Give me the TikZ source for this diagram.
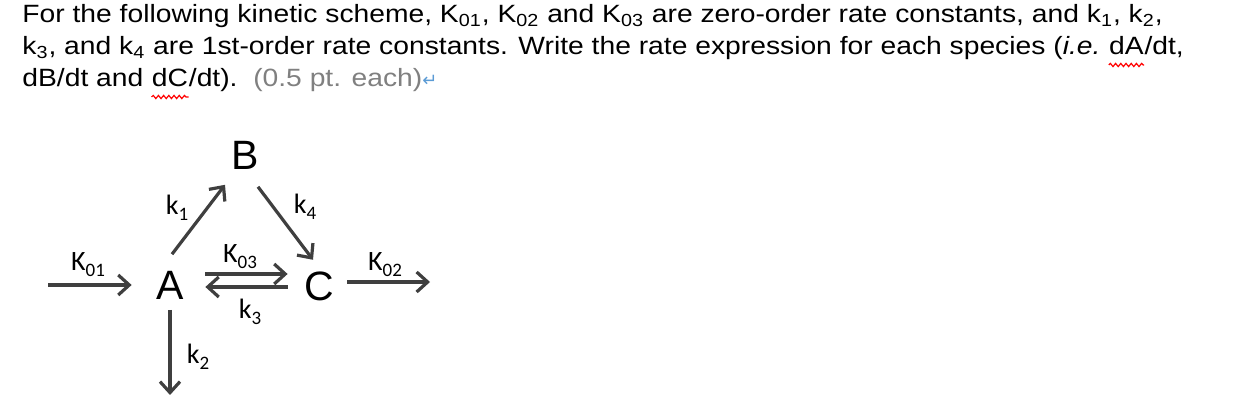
\documentclass[tikz,border=0pt]{standalone}
\usepackage{fontspec}
\setmainfont{Liberation Sans}[FakeStretch=1.13]
\newfontfamily\labelfont{Carlito}
\newfontfamily\speciesfont{Liberation Sans}
\newfontfamily\symfont{DejaVu Sans}
\usetikzlibrary{arrows.meta,decorations.pathmorphing}

\definecolor{arrowgray}{HTML}{3F3F3F}
\definecolor{notegray}{HTML}{808080}
\definecolor{markblue}{HTML}{5B9BD5}

% lowered subscript for the rate labels
\newcommand\ratesub[1]{\raisebox{-3pt}{\fontsize{9.5}{10}\selectfont#1}}

\tikzset{
  prose/.style={anchor=base west, inner sep=0pt, font=\fontsize{12.5}{16}\selectfont},
  species/.style={inner sep=0pt, font=\speciesfont\fontsize{20.5}{23}\selectfont},
  rate/.style={inner sep=0pt, font=\labelfont\fontsize{14}{16}\selectfont},
  flow/.style={draw=arrowgray, line width=1.6pt, -{Straight Barb[length=5.5pt,width=10pt]}},
  spell/.style={draw=red, line width=0.6pt, decorate,
    decoration={snake, amplitude=0.8pt, segment length=2.6pt}}
}

\begin{document}
\begin{tikzpicture}[x=0.5pt,y=-0.5pt]
  \useasboundingbox (0,0) rectangle (1245,410);

  % question text
  \node[prose] (l1) at (22,23) {For the following kinetic scheme, K\textsubscript{01}, K\textsubscript{02} and K\textsubscript{03} are zero-order rate constants, and k\textsubscript{1}, k\textsubscript{2},};
  \node[prose] (l2) at (22,55) {k\textsubscript{3}, and k\textsubscript{4} are 1st-order rate constants. Write the rate expression for each species (\textit{i.e.}~\mbox{}};
  \node[prose] (dA) at (l2.base east) {dA};
  \node[prose] (l2end) at (dA.base east) {/dt,};
  \node[prose] (l3) at (22,87) {dB/dt and~\mbox{}};
  \node[prose] (dC) at (l3.base east) {dC};
  \node[prose] (l3end) at (dC.base east) {/dt).~~\textcolor{notegray}{(0.5 pt. each)}{\symfont\fontsize{9}{10}\selectfont\textcolor{markblue}{↵}}};
  \draw[spell] ([yshift=-5pt]dA.base west) -- ([yshift=-5pt]dA.base east);
  \draw[spell] ([yshift=-5pt]dC.base west) -- ([yshift=-5pt]dC.base east);

  % species
  \node[species] (A) at (170,285) {A};
  \node[species] (B) at (245,155) {B};
  \node[species] (C) at (319,286) {C};
  \coordinate (in1) at (48,285);
  \coordinate (out1) at (170,395);
  \coordinate (out2) at (430,282);

  % reactions
  \draw[flow] (in1) -- ([shift={(-24.3,0)}]A.west);
  \draw[flow] ([shift={(2,-16.3)}]A.north) -- ([shift={(-20,15.3)}]B.south);
  \draw[flow] ([shift={(13,17.3)}]B.south) -- ([shift={(-6,-11.3)}]C.north);
  \draw[flow] ([shift={(21.3,-11)}]A.east) -- ([shift={(-16.2,-12)}]C.west);
  \draw[flow] ([shift={(-16.2,1)}]C.west) -- ([shift={(21.3,2)}]A.east);
  \draw[flow] ([shift={(13.2,-4)}]C.east) -- (out2);
  \draw[flow] ([shift={(0,10.3)}]A.south) -- (out1);

  % rate constants
  \node[rate] (K01) at (88,265) {K\ratesub{01}};
  \node[rate] (k1) at (177,208) {k\ratesub{1}};
  \node[rate] (k4) at (305,207) {k\ratesub{4}};
  \node[rate] (K03) at (240,257) {K\ratesub{03}};
  \node[rate] (k3) at (250,312) {k\ratesub{3}};
  \node[rate] (K02) at (385,265) {K\ratesub{02}};
  \node[rate] (k2) at (198,357) {k\ratesub{2}};
\end{tikzpicture}
\end{document}
